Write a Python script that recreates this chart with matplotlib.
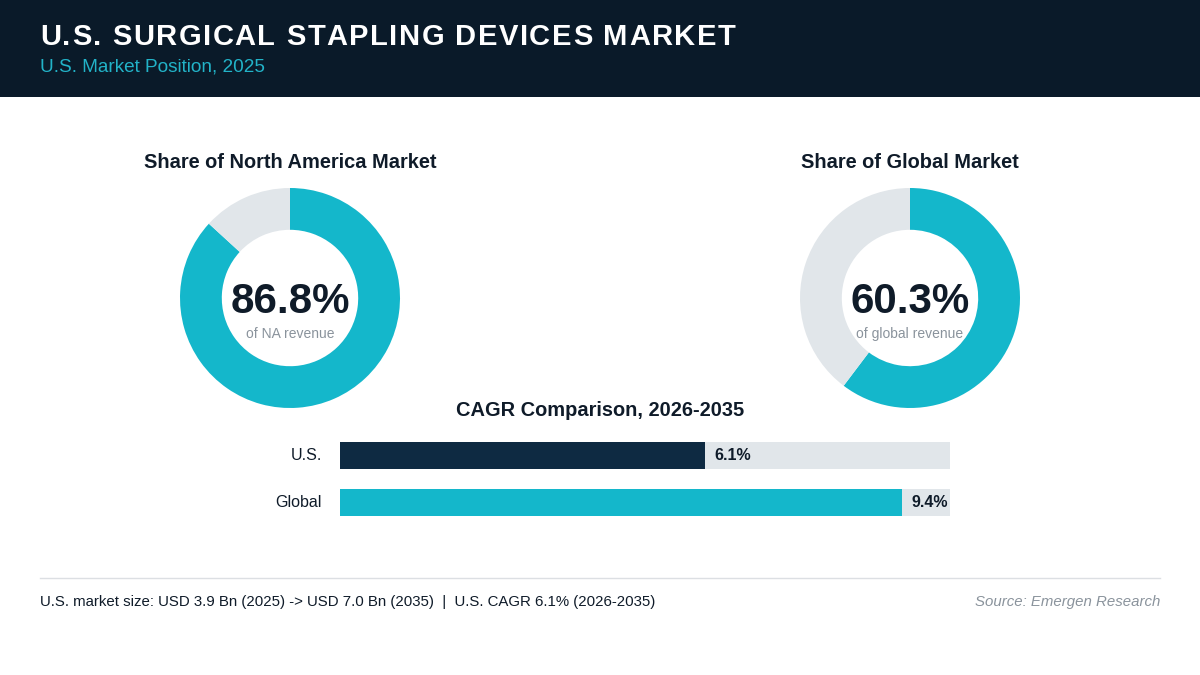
import matplotlib.pyplot as plt
from matplotlib.patches import Rectangle

plt.rcParams['font.family'] = ['Liberation Sans', 'DejaVu Sans']

# data
donut_titles = ["Share of North America Market", "Share of Global Market"]
donut_values = [86.8, 60.3]
donut_subs = ["of NA revenue", "of global revenue"]

cagr_labels = ["U.S.", "Global"]
cagr_values = [6.1, 9.4]

title = "U.S. SURGICAL STAPLING DEVICES MARKET"
subtitle = "U.S. Market Position, 2025"
footer_note = "U.S. market size: USD 3.9 Bn (2025) -> USD 7.0 Bn (2035)  |  U.S. CAGR 6.1% (2026-2035)"
source_note = "Source: Emergen Research"

TEAL = "#14b7cb"
TRACK = "#e1e6ea"
NAVY = "#0e2a42"
HEADER = "#0a1a29"
INK = "#0f1b29"
GRAY = "#8a939c"

W, H = 1200, 675
fig = plt.figure(figsize=(12, 6.75), dpi=100)
fig.patch.set_facecolor("white")


def fx(px):
    return px / W


def fy(py):
    return 1 - py / H


# header band
fig.patches.append(Rectangle((0, fy(97)), 1, 97 / H, transform=fig.transFigure,
                             facecolor=HEADER, edgecolor="none", zorder=0))

# title with a bit of letter spacing, one char at a time
renderer = fig.canvas.get_renderer()
x = 40
for ch in title:
    t = fig.text(fx(x), fy(45), ch, color="white", fontsize=21, fontweight="bold",
                 va="baseline", ha="left")
    if ch == " ":
        t2 = fig.text(0, 0, "a a", fontsize=21, fontweight="bold")
        t3 = fig.text(0, 0, "aa", fontsize=21, fontweight="bold")
        w = t2.get_window_extent(renderer).width - t3.get_window_extent(renderer).width
        t2.remove()
        t3.remove()
    else:
        w = t.get_window_extent(renderer).width
    x += w + 1.5

fig.text(fx(40), fy(67), subtitle, color="#22b3c8",
         fontsize=13.7, va="center", ha="left")

# donuts
centers = [290, 910]
for cx, dt, val, sub in zip(centers, donut_titles, donut_values, donut_subs):
    r = 110
    ax = fig.add_axes([fx(cx - r), fy(298 + r), 2 * r / W, 2 * r / H])
    ax.pie([val, 100 - val], colors=[TEAL, TRACK], startangle=90, counterclock=False,
           radius=1, wedgeprops=dict(width=0.38, edgecolor="none"))
    ax.set_xlim(-1, 1)
    ax.set_ylim(-1, 1)
    ax.set_aspect("equal")
    ax.axis("off")
    ax.text(0, -0.135, f"{val:.1f}%", ha="center", va="baseline", fontsize=30.3,
            fontweight="bold", color=INK)
    ax.text(0, -0.365, sub, ha="center", va="baseline", fontsize=10, color=GRAY)
    fig.text(fx(cx), fy(163), dt, ha="center", va="center", fontsize=14.4,
             fontweight="bold", color=INK)

# CAGR bars
fig.text(0.5, fy(411), "CAGR Comparison, 2026-2035", ha="center", va="center",
         fontsize=14.4, fontweight="bold", color=INK)
bx = fig.add_axes([fx(340), fy(526), fx(610), 94 / H])
scale_max = max(cagr_values) * 1.085
ypos = list(range(len(cagr_values)))
bx.barh(ypos, [scale_max] * len(ypos), height=0.575, color=TRACK, edgecolor="none")
bx.barh(ypos, cagr_values, height=0.575, color=[NAVY, TEAL], edgecolor="none")
for y, v, lab in zip(ypos, cagr_values, cagr_labels):
    bx.text(v + scale_max * 0.016, y, f"{v:.1f}%", ha="left", va="center",
            fontsize=11.5, fontweight="bold", color=INK)
    bx.text(-scale_max * 0.03, y, lab, ha="right", va="center", fontsize=11.5, color=INK)
bx.set_xlim(0, scale_max)
bx.set_ylim(1.5, -0.5)
bx.axis("off")

# footer
fig.add_artist(plt.Line2D([fx(40), fx(1160)], [fy(578), fy(578)], color="#dcdfe3", lw=1))
fig.text(fx(40), fy(602), footer_note, ha="left", va="center", fontsize=10.8, color=INK)
fig.text(fx(1160), fy(602), source_note, ha="right", va="center", fontsize=10.8,
         color=GRAY, style="italic")

fig.savefig("out.png", dpi=100)
